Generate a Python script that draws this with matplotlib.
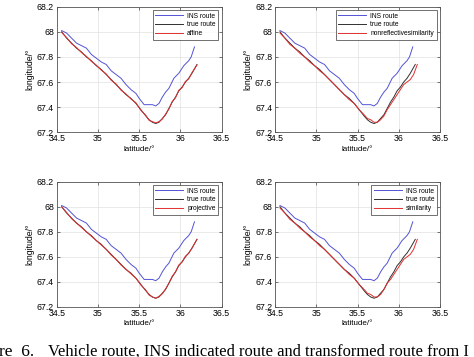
import matplotlib
matplotlib.use("Agg")
import matplotlib.pyplot as plt

# ---------------- data ----------------
x_ticks = [34.5, 35, 35.5, 36, 36.5]
x_tick_labels = ["34.5", "35", "35.5", "36", "36.5"]
y_ticks = [67.2, 67.4, 67.6, 67.8, 68.0, 68.2]
y_tick_labels = ["67.2", "67.4", "67.6", "67.8", "68", "68.2"]

lat_ins = [34.56, 34.62, 34.68, 34.74, 34.80, 34.86, 34.92, 34.98, 35.04, 35.10,
           35.16, 35.22, 35.28, 35.34, 35.40, 35.46, 35.50, 35.56, 35.62, 35.66,
           35.70, 35.74, 35.78, 35.82, 35.86, 35.92, 35.98, 36.04, 36.10, 36.13, 36.17]
lon_ins = [68.01, 67.99, 67.95, 67.91, 67.89, 67.87, 67.82, 67.79, 67.76, 67.74,
           67.69, 67.66, 67.63, 67.58, 67.54, 67.51, 67.47, 67.42, 67.42, 67.42,
           67.41, 67.43, 67.48, 67.52, 67.55, 67.63, 67.67, 67.73, 67.77, 67.80, 67.88]

lat_true = [34.56, 34.62, 34.68, 34.74, 34.80, 34.86, 34.92, 34.98, 35.04, 35.10,
            35.16, 35.22, 35.28, 35.34, 35.40, 35.46, 35.52, 35.58, 35.62, 35.66,
            35.70, 35.74, 35.78, 35.82, 35.86, 35.90, 35.94, 35.98, 36.02, 36.06,
            36.10, 36.14, 36.20]
lon_true = [68.00, 67.95, 67.91, 67.87, 67.84, 67.80, 67.77, 67.73, 67.70, 67.66,
            67.62, 67.58, 67.54, 67.50, 67.47, 67.43, 67.38, 67.33, 67.30, 67.28,
            67.27, 67.28, 67.31, 67.34, 67.39, 67.44, 67.48, 67.53, 67.56, 67.60,
            67.63, 67.67, 67.74]

lat_affine = [34.56, 34.62, 34.68, 34.74, 34.80, 34.86, 34.92, 34.98, 35.04, 35.10,
              35.16, 35.22, 35.28, 35.34, 35.40, 35.46, 35.52, 35.58, 35.62, 35.66,
              35.70, 35.74, 35.78, 35.82, 35.86, 35.90, 35.94, 35.98, 36.02, 36.06,
              36.10, 36.14, 36.20]
lon_affine = [67.995, 67.955, 67.905, 67.875, 67.835, 67.805, 67.765, 67.735, 67.695, 67.665,
              67.615, 67.585, 67.535, 67.505, 67.465, 67.435, 67.375, 67.335, 67.295, 67.285,
              67.275, 67.285, 67.305, 67.345, 67.385, 67.445, 67.475, 67.535, 67.555, 67.605,
              67.625, 67.675, 67.735]

lat_nonrefl = [34.56, 34.62, 34.68, 34.74, 34.80, 34.86, 34.92, 34.98, 35.04, 35.10,
               35.16, 35.22, 35.28, 35.34, 35.40, 35.46, 35.52, 35.58, 35.62, 35.66,
               35.70, 35.74, 35.78, 35.82, 35.86, 35.90, 35.94, 35.98, 36.02, 36.06,
               36.10, 36.14, 36.18, 36.225]
lon_nonrefl = [67.99, 67.95, 67.90, 67.87, 67.83, 67.80, 67.76, 67.73, 67.69, 67.66,
               67.62, 67.58, 67.54, 67.50, 67.46, 67.43, 67.38, 67.34, 67.31, 67.30,
               67.28, 67.28, 67.30, 67.33, 67.38, 67.42, 67.46, 67.50, 67.54, 67.58,
               67.60, 67.62, 67.66, 67.74]

lat_proj = [34.56, 34.62, 34.68, 34.74, 34.80, 34.86, 34.92, 34.98, 35.04, 35.10,
            35.16, 35.22, 35.28, 35.34, 35.40, 35.46, 35.52, 35.58, 35.62, 35.66,
            35.70, 35.74, 35.78, 35.82, 35.86, 35.90, 35.94, 35.98, 36.02, 36.06,
            36.10, 36.14, 36.20]
lon_proj = [68.00, 67.955, 67.905, 67.87, 67.835, 67.80, 67.765, 67.73, 67.695, 67.66,
            67.615, 67.58, 67.535, 67.50, 67.465, 67.43, 67.375, 67.335, 67.295, 67.28,
            67.27, 67.285, 67.305, 67.345, 67.39, 67.445, 67.48, 67.535, 67.56, 67.605,
            67.63, 67.67, 67.74]

lat_sim = [34.56, 34.62, 34.68, 34.74, 34.80, 34.86, 34.92, 34.98, 35.04, 35.10,
           35.16, 35.22, 35.28, 35.34, 35.40, 35.46, 35.52, 35.58, 35.62, 35.66,
           35.70, 35.74, 35.78, 35.82, 35.86, 35.90, 35.94, 35.98, 36.02, 36.06,
           36.10, 36.14, 36.18, 36.225]
lon_sim = [67.99, 67.95, 67.90, 67.87, 67.83, 67.80, 67.76, 67.73, 67.69, 67.66,
           67.62, 67.58, 67.54, 67.50, 67.46, 67.43, 67.38, 67.34, 67.31, 67.30,
           67.28, 67.28, 67.30, 67.34, 67.39, 67.42, 67.46, 67.50, 67.54, 67.58,
           67.60, 67.62, 67.66, 67.74]

panels = [
    ("affine", lat_affine, lon_affine),
    ("nonreflectivesimilarity", lat_nonrefl, lon_nonrefl),
    ("projective", lat_proj, lon_proj),
    ("similarity", lat_sim, lon_sim),
]

caption_prefix = "re  6."
caption_text = "Vehicle route, INS indicated route and transformed route from I"

# ---------------- style ----------------
plt.rcParams["font.family"] = ["Liberation Sans", "DejaVu Sans"]

fig = plt.figure(figsize=(4.74, 3.57), dpi=100)
fig.patch.set_facecolor("white")

W, H = 474.0, 357.0
boxes = [
    (56.7, 6.7, 221.7, 132.3),
    (275.0, 6.7, 440.0, 132.3),
    (56.7, 181.7, 221.7, 307.0),
    (275.0, 181.7, 440.0, 307.0),
]

for (name, lat_t, lon_t), (x0, y0, x1, y1) in zip(panels, boxes):
    ax = fig.add_axes([x0 / W, 1 - y1 / H, (x1 - x0) / W, (y1 - y0) / H])
    ax.plot(lat_ins, lon_ins, color="#5252d6", lw=0.7, label="INS route")
    ax.plot(lat_true, lon_true, color="#303030", lw=0.7, label="true route")
    ax.plot(lat_t, lon_t, color="#e03030", lw=0.7, label=name)
    ax.set_xlim(34.5, 36.5)
    ax.set_ylim(67.2, 68.2)
    ax.set_xticks(x_ticks)
    ax.set_xticklabels(x_tick_labels)
    ax.set_yticks(y_ticks)
    ax.set_yticklabels(y_tick_labels)
    ax.tick_params(direction="in", length=2, width=0.5, labelsize=6.3,
                   top=True, right=True, colors="#404040", labelcolor="black")
    ax.tick_params(axis="x", pad=1.2)
    ax.tick_params(axis="y", pad=2)
    ax.grid(True, color="#e2e2e2", lw=0.5)
    ax.set_axisbelow(True)
    for s in ax.spines.values():
        s.set_color("#555555")
        s.set_linewidth(0.6)
    ax.set_xlabel("latitude/°", fontsize=5.8, labelpad=2)
    ax.set_ylabel("longitude/°", fontsize=6.3, labelpad=2)
    leg = ax.legend(loc="upper right", fontsize=4.8, frameon=True, fancybox=False,
                    handlelength=4.2, handletextpad=0.6, labelspacing=0.25,
                    borderpad=0.4, borderaxespad=0.5)
    leg.get_frame().set_edgecolor("#303030")
    leg.get_frame().set_linewidth(0.6)

cap_y = (H - 344) / H
fig.text(34 / W, cap_y, caption_prefix, fontsize=12.5,
         family=["Liberation Serif", "DejaVu Serif"], va="top", ha="right")
fig.text(48 / W, cap_y, caption_text, fontsize=11.9,
         family=["Liberation Serif", "DejaVu Serif"], va="top", ha="left")

fig.savefig("out.png", dpi=100, facecolor="white")
